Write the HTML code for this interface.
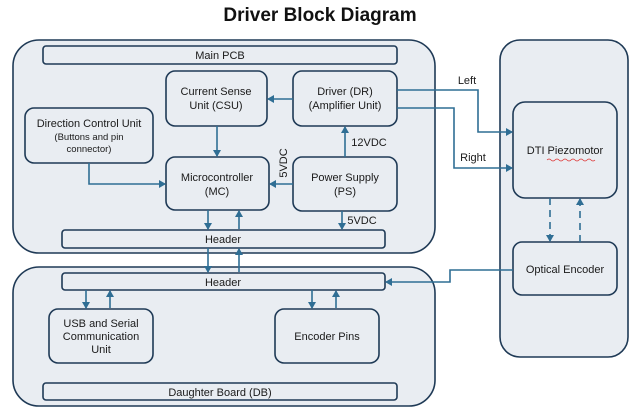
<!DOCTYPE html>
<html><head><meta charset="utf-8"><style>
html,body{margin:0;padding:0;background:#fff;}
svg{display:block;font-family:"Liberation Sans",Arial,sans-serif;}
</style></head><body>
<svg width="640" height="412" viewBox="0 0 640 412" xmlns="http://www.w3.org/2000/svg">
<defs>
<marker id="a" markerWidth="8" markerHeight="8" refX="6" refY="4" orient="auto" markerUnits="userSpaceOnUse">
<path d="M0,0 L7,4 L0,8 Z" fill="#2f6e94"/></marker>
</defs>
<text x="320" y="21" text-anchor="middle" font-size="19" font-weight="bold" fill="#111">Driver Block Diagram</text>
<g fill="#e9edf2" stroke="#1f3a56" stroke-width="1.6">
<rect x="13" y="40" width="422" height="213" rx="26"/>
<rect x="13" y="267" width="422" height="139" rx="26"/>
<rect x="500" y="40" width="128" height="317" rx="20"/>
<rect x="43" y="46" width="354" height="18" rx="3"/>
<rect x="166" y="71" width="101" height="55" rx="9"/>
<rect x="293" y="71" width="104" height="55" rx="9"/>
<rect x="25" y="108" width="128" height="55" rx="9"/>
<rect x="166" y="157" width="103" height="53" rx="9"/>
<rect x="293" y="157" width="104" height="54" rx="9"/>
<rect x="62" y="230" width="323" height="18" rx="3"/>
<rect x="62" y="273" width="323" height="17" rx="3"/>
<rect x="49" y="309" width="104" height="54" rx="9"/>
<rect x="275" y="309" width="104" height="54" rx="9"/>
<rect x="43" y="383" width="354" height="17" rx="3"/>
<rect x="513" y="102" width="104" height="96" rx="12"/>
<rect x="513" y="242" width="104" height="53" rx="9"/>
</g>
<g fill="none" stroke="#2f6e94" stroke-width="1.6" marker-end="url(#a)">
<path d="M293,99 H268"/>
<path d="M217,126 V156"/>
<path d="M89,163 V184 H165"/>
<path d="M293,184 H270"/>
<path d="M345,157 V127"/>
<path d="M342,211 V229"/>
<path d="M208,210 V229"/>
<path d="M239,229 V211"/>
<path d="M208,248 V272"/>
<path d="M239,272 V249"/>
<path d="M86,290 V308"/>
<path d="M110,308 V291"/>
<path d="M312,290 V308"/>
<path d="M336,308 V291"/>
<path d="M397,90 H478 V132 H512"/>
<path d="M397,108 H454 V168 H512"/>
<path d="M513,270 H450 V282 H386"/>
<path d="M550,198 V241" stroke-dasharray="7,5"/>
<path d="M580,242 V199" stroke-dasharray="7,5"/>
</g>
<g font-size="11" fill="#1a1a1a" text-anchor="middle">
<text x="220" y="59">Main PCB</text>
<text x="216" y="95">Current Sense</text>
<text x="216" y="109">Unit (CSU)</text>
<text x="345" y="95">Driver (DR)</text>
<text x="345" y="109">(Amplifier Unit)</text>
<text x="89" y="127">Direction Control Unit</text>
<text x="89" y="140" font-size="9.5">(Buttons and pin</text>
<text x="89" y="152" font-size="9.5">connector)</text>
<text x="217" y="181">Microcontroller</text>
<text x="217" y="195">(MC)</text>
<text x="345" y="181">Power Supply</text>
<text x="345" y="195">(PS)</text>
<text x="223" y="243">Header</text>
<text x="223" y="286">Header</text>
<text x="101" y="327">USB and Serial</text>
<text x="101" y="340">Communication</text>
<text x="101" y="353">Unit</text>
<text x="327" y="340">Encoder Pins</text>
<text x="220" y="396">Daughter Board (DB)</text>
<text x="565" y="154">DTI Piezomotor</text>
<text x="565" y="273">Optical Encoder</text>
<text x="467" y="84">Left</text>
<text x="473" y="161">Right</text>
<text x="369" y="146">12VDC</text>
<text x="362" y="224">5VDC</text>
<text transform="translate(287,163) rotate(-90)" text-anchor="middle">5VDC</text>
</g>
<path d="M547,160 q2,-2 4,0 t4,0 t4,0 t4,0 t4,0 t4,0 t4,0 t4,0 t4,0 t4,0 t4,0 t4,0" fill="none" stroke="#d33" stroke-width="0.7"/>
</svg>
</body></html>
